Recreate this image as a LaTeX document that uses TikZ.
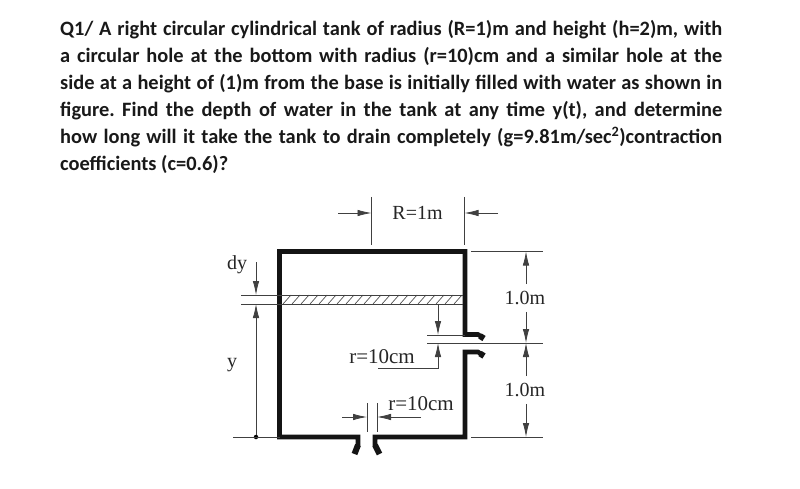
\documentclass[tikz,border=0pt]{standalone}
\usepackage{fontspec}
\setmainfont{Liberation Serif}
\newfontfamily\qfont{Carlito}[BoldFont=Carlito Bold]
\usetikzlibrary{arrows.meta}
\newcommand{\wallcol}{black!92}
\newcommand{\thincol}{black!75}
\begin{document}
\begin{tikzpicture}[x=1pt,y=-1pt,
        wall/.style = {line width=4.6pt, color=\wallcol, miter limit=4},
        lip/.style = {line width=6pt, color=\wallcol},
        dimline/.style = {line width=0.8pt, color=\thincol},
        dimarrow/.style = {dimline, -{Latex[length=14pt,width=6.5pt]}},
        dimlabel/.style = {inner sep=0pt, font=\fontsize{20}{22}\selectfont, text=black!85}]
        \useasboundingbox[fill=white] (0,0) rectangle (800,489);
        % question
        \node (question) [anchor=north west, inner sep=0pt, text width=662pt, align=justify, text=black!90,
            font=\qfont\bfseries\fontsize{20.4}{27.1}\selectfont\frenchspacing] at (60,20)
            {Q1/ A right circular cylindrical tank of radius (R=1)m and height (h=2)m, with\linebreak
            a circular hole at the bottom with radius (r=10)cm and a similar hole at the\linebreak
            side at a height of (1)m from the base is initially filled with water as shown in\linebreak
            figure. Find the depth of water in the tank at any time y(t), and determine\linebreak
            how long will it take the tank to drain completely (g=9.81m/sec\textsuperscript{2})contraction\linebreak
            coefficients (c=0.6)?};
        % tank
        \coordinate (topL) at (279.5,251.5);
        \coordinate (topR) at (465,251.5);
        \coordinate (botL) at (279.5,437);
        \coordinate (botR) at (465,437);
        \draw[wall] (358,446) -- (358,437) -- (botL) -- (topL) -- (topR)
            -- (465,334.5) -- (478,334.5) -- (482,337);
        \draw[wall] (482,354.5) -- (478,352) -- (465,352) -- (botR) -- (375,437) -- (375,446);
        \draw[lip] (358,445) -- (354.5,454);
        \draw[lip] (375,445) -- (379.5,454);
        \draw[lip] (480,336) -- (484,338.5);
        \draw[lip] (480,353.5) -- (484,356);
        % water band
        \coordinate (waterTL) at (241,295);
        \coordinate (waterBL) at (241,304);
        \coordinate (waterTR) at (463,295);
        \coordinate (waterBR) at (463,304);
        \draw[dimline] (waterTL) -- (waterTR);
        \draw[dimline] (waterBL) -- (waterBR);
        \foreach \x in {283,292,...,454}
            \draw[dimline, line width=0.6pt] (\x,304) -- (\x+8,295);
        % R=1m
        \node (Rlabel) [dimlabel] at (417.5,213) {R=1m};
        \coordinate (Rleft) at (371.5,213);
        \coordinate (Rright) at (464.5,213);
        \coordinate (RleftEnd) at (338,213);
        \coordinate (RrightEnd) at (498,213);
        \draw[dimline] (371.5,197) -- (371.5,245);
        \draw[dimline] (464.5,197) -- (464.5,245);
        \draw[dimarrow] (RleftEnd) -- (Rleft);
        \draw[dimarrow] (RrightEnd) -- (Rright);
        % dy and y
        \node (dylabel) [dimlabel] at (237,265) {dy};
        \node (ylabel) [dimlabel] at (232,365) {y};
        \node (base) [circle, fill=black, inner sep=0pt, minimum size=4.5pt] at (256,437) {};
        \coordinate (baseEnd) at (233,437);
        \coordinate (dyStart) at (256,262);
        \draw[dimline] (baseEnd) -- (botL);
        \draw[dimarrow] (dyStart) -- (256,295);
        \draw[dimarrow] (base) -- (256,304);
        % side hole
        \node (sideLabel) [dimlabel, font=\fontsize{21}{22}\selectfont] at (382,357) {r=10cm};
        \coordinate (sideA) at (438,304);
        \coordinate (sideB) at (438,368);
        \coordinate (sideC) at (378,368);
        \draw[dimline] (427,335) -- (465,335);
        \draw[dimline] (427,343) -- (543,343);
        \draw[dimarrow] (sideA) -- (438,335);
        \draw[dimarrow] (sideC) -- (sideB) -- (438,343);
        % bottom hole
        \node (botLabel) [dimlabel, font=\fontsize{21}{22}\selectfont] at (421,403.5) {r=10cm};
        \coordinate (botA) at (342,417);
        \coordinate (botB) at (421,417);
        \draw[dimline] (367,403) -- (367,432);
        \draw[dimline] (377,403) -- (377,432);
        \draw[dimarrow] (botA) -- (367,417);
        \draw[dimarrow] (botB) -- (377,417);
        % right heights
        \node (upperH) [dimlabel] at (525,298) {1.0m};
        \node (lowerH) [dimlabel] at (525,390) {1.0m};
        \draw[dimline] (471,251.5) -- (543,251.5);
        \draw[dimline] (471,437) -- (543,437);
        \draw[dimarrow] (upperH.north -| 526,0) ++(0,-7) -- (526,251.5);
        \draw[dimarrow] (upperH.south -| 526,0) ++(0,7) -- (526,343);
        \draw[dimarrow] (lowerH.north -| 526,0) ++(0,-7) -- (526,343);
        \draw[dimarrow] (lowerH.south -| 526,0) ++(0,7) -- (526,437);
    \end{tikzpicture}
\end{document}
